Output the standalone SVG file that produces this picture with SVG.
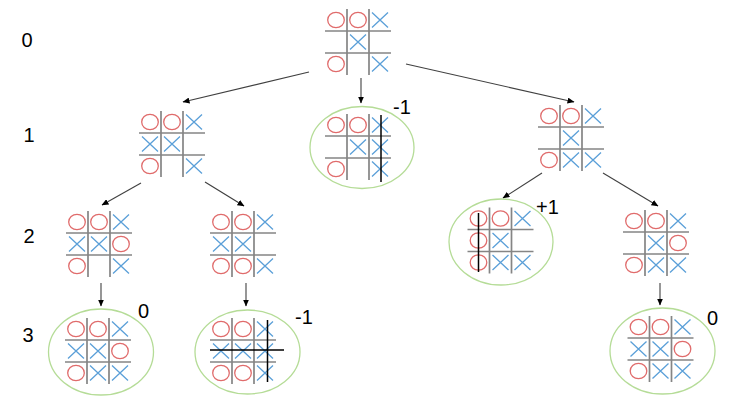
<svg xmlns="http://www.w3.org/2000/svg" width="750" height="418" viewBox="0 0 750 418">
<style>
.grid{fill:none;stroke:#858585;stroke-width:1.7}
.o{fill:none;stroke:#e06c6c;stroke-width:1.3}
.x{fill:none;stroke:#5a9fd8;stroke-width:1.3}
.win{fill:none;stroke:#000;stroke-width:1.5}
.ring{fill:none;stroke:#b5dc97;stroke-width:1.3}
.edge{fill:none;stroke:#404040;stroke-width:1.1;marker-end:url(#ah)}
.lbl{font-family:"Liberation Sans",Arial,sans-serif;font-size:20px;fill:#000}
.score{font-family:"Liberation Sans",Arial,sans-serif;font-size:20px;fill:#000}
</style>
<defs>
<marker id="ah" markerWidth="7" markerHeight="6" refX="6.5" refY="3" orient="auto" markerUnits="userSpaceOnUse">
<path d="M0,0 L7,3 L0,6 Z" fill="#000"/>
</marker>
<path id="grid" class="grid" d="M22 0V66M44 0V66M0 22H66M0 44H66"/>
<ellipse id="O" class="o" cx="0" cy="0" rx="8.3" ry="7.7"/>
<path id="X" class="x" d="M-8 -7.5L8 7.5M8 -7.5L-8 7.5"/>
</defs>
<rect width="750" height="418" fill="#fff"/>

<g id="levels">
<text class="lbl" x="27" y="47" text-anchor="middle">0</text>
<text class="lbl" x="29" y="142" text-anchor="middle">1</text>
<text class="lbl" x="29" y="243" text-anchor="middle">2</text>
<text class="lbl" x="28" y="342" text-anchor="middle">3</text>
</g>

<g id="connectors">
<path class="edge" d="M309 72L183 102"/>
<path class="edge" d="M361 78L361 103"/>
<path class="edge" d="M406 64L574 102"/>
<path class="edge" d="M141 183L102 205"/>
<path class="edge" d="M205 182L244 206"/>
<path class="edge" d="M542 173L503 198"/>
<path class="edge" d="M603 173L658 206"/>
<path class="edge" d="M101 283L101 306"/>
<path class="edge" d="M246 283L246 306"/>
<path class="edge" d="M660 283L660 305"/>
</g>

<g id="root" transform="translate(325,9)">
<use href="#grid"/>
<use href="#O" x="11" y="11"/><use href="#O" x="33" y="11"/><use href="#X" x="55" y="11"/>
<use href="#X" x="33" y="33"/>
<use href="#O" x="11" y="55"/><use href="#X" x="55" y="55"/>
</g>

<g id="l1a" transform="translate(139,111)">
<use href="#grid"/>
<use href="#O" x="11" y="11"/><use href="#O" x="33" y="11"/><use href="#X" x="55" y="11"/>
<use href="#X" x="11" y="33"/><use href="#X" x="33" y="33"/>
<use href="#O" x="11" y="55"/><use href="#X" x="55" y="55"/>
</g>

<g id="l1b">
<ellipse class="ring" cx="362" cy="147.5" rx="52" ry="41"/>
<g transform="translate(325,114)">
<use href="#grid"/>
<use href="#O" x="11" y="11"/><use href="#O" x="33" y="11"/><use href="#X" x="55" y="11"/>
<use href="#X" x="33" y="33"/><use href="#X" x="55" y="33"/>
<use href="#O" x="11" y="55"/><use href="#X" x="55" y="55"/>
</g>
<path class="win" d="M381 115V182"/>
<text class="score" x="393" y="114">-1</text>
</g>

<g id="l1c" transform="translate(538,105)">
<use href="#grid"/>
<use href="#O" x="11" y="11"/><use href="#O" x="33" y="11"/><use href="#X" x="55" y="11"/>
<use href="#X" x="33" y="33"/>
<use href="#O" x="11" y="55"/><use href="#X" x="33" y="55"/><use href="#X" x="55" y="55"/>
</g>

<g id="l2a" transform="translate(66,211)">
<use href="#grid"/>
<use href="#O" x="11" y="11"/><use href="#O" x="33" y="11"/><use href="#X" x="55" y="11"/>
<use href="#X" x="11" y="33"/><use href="#X" x="33" y="33"/><use href="#O" x="55" y="33"/>
<use href="#O" x="11" y="55"/><use href="#X" x="55" y="55"/>
</g>

<g id="l2b" transform="translate(210,211)">
<use href="#grid"/>
<use href="#O" x="11" y="11"/><use href="#O" x="33" y="11"/><use href="#X" x="55" y="11"/>
<use href="#X" x="11" y="33"/><use href="#X" x="33" y="33"/>
<use href="#O" x="11" y="55"/><use href="#O" x="33" y="55"/><use href="#X" x="55" y="55"/>
</g>

<g id="l2c">
<ellipse class="ring" cx="501" cy="242" rx="52" ry="43"/>
<g transform="translate(467.5,207.5)">
<use href="#grid"/>
<use href="#O" x="11" y="11"/><use href="#O" x="33" y="11"/><use href="#X" x="55" y="11"/>
<use href="#O" x="11" y="33"/><use href="#X" x="33" y="33"/>
<use href="#O" x="11" y="55"/><use href="#X" x="33" y="55"/><use href="#X" x="55" y="55"/>
</g>
<path class="win" d="M478.5 213V272"/>
<text class="score" x="536" y="214">+1</text>
</g>

<g id="l2d" transform="translate(623,210)">
<use href="#grid"/>
<use href="#O" x="11" y="11"/><use href="#O" x="33" y="11"/><use href="#X" x="55" y="11"/>
<use href="#X" x="33" y="33"/><use href="#O" x="55" y="33"/>
<use href="#O" x="11" y="55"/><use href="#X" x="33" y="55"/><use href="#X" x="55" y="55"/>
</g>

<g id="l3a">
<ellipse class="ring" cx="101" cy="352" rx="52.5" ry="43"/>
<g transform="translate(65,318)">
<use href="#grid"/>
<use href="#O" x="11" y="11"/><use href="#O" x="33" y="11"/><use href="#X" x="55" y="11"/>
<use href="#X" x="11" y="33"/><use href="#X" x="33" y="33"/><use href="#O" x="55" y="33"/>
<use href="#O" x="11" y="55"/><use href="#X" x="33" y="55"/><use href="#X" x="55" y="55"/>
</g>
<text class="score" x="138" y="318">0</text>
</g>

<g id="l3b">
<ellipse class="ring" cx="247.5" cy="352" rx="52.5" ry="42"/>
<g transform="translate(210,318)">
<use href="#grid"/>
<use href="#O" x="11" y="11"/><use href="#O" x="33" y="11"/><use href="#X" x="55" y="11"/>
<use href="#X" x="11" y="33"/><use href="#X" x="33" y="33"/><use href="#X" x="55" y="33"/>
<use href="#O" x="11" y="55"/><use href="#O" x="33" y="55"/><use href="#X" x="55" y="55"/>
</g>
<path class="win" d="M210 350H284M267.5 320V382"/>
<text class="score" x="295" y="324">-1</text>
</g>

<g id="l3d">
<ellipse class="ring" cx="662.5" cy="351" rx="52.5" ry="43"/>
<g transform="translate(627.5,316)">
<use href="#grid"/>
<use href="#O" x="11" y="11"/><use href="#O" x="33" y="11"/><use href="#X" x="55" y="11"/>
<use href="#X" x="11" y="33"/><use href="#X" x="33" y="33"/><use href="#O" x="55" y="33"/>
<use href="#O" x="11" y="55"/><use href="#X" x="33" y="55"/><use href="#X" x="55" y="55"/>
</g>
<text class="score" x="707" y="325">0</text>
</g>
</svg>
